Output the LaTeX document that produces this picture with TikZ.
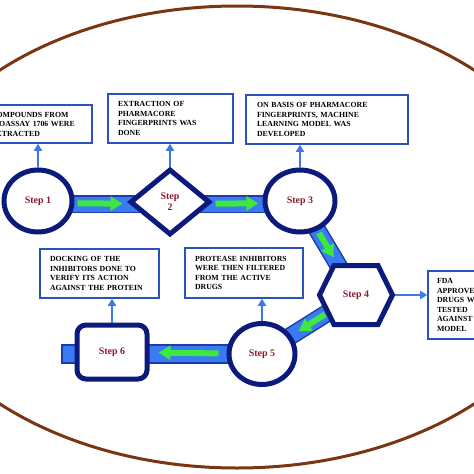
\documentclass[tikz,border=0pt]{standalone}
\usepackage{fontspec}
\setmainfont{Liberation Serif}
\usetikzlibrary{shapes.geometric,arrows.meta,calc,backgrounds}
\definecolor{navy}{HTML}{0C1A7C}
\definecolor{stepred}{HTML}{8B1A2E}
\definecolor{boxblue}{HTML}{2A52BE}
\definecolor{upblue}{HTML}{3C78E6}
\definecolor{bandfill}{HTML}{3A7AF2}
\definecolor{bandedge}{HTML}{1C3CA8}
\definecolor{arrowgreen}{HTML}{3EE83E}
\definecolor{ringbrown}{HTML}{7A3512}
\begin{document}
\begin{tikzpicture}[x=1pt,y=-1pt,
 stepshape/.style={draw=navy,line width=5pt,fill=white,font=\bfseries\fontsize{10}{11}\selectfont,text=stepred,inner sep=0pt,align=center},
 stepcirc/.style={stepshape,ellipse},
 infobox/.style={draw=boxblue,line width=1.6pt,fill=white,font=\bfseries\fontsize{7.8}{9.5}\selectfont,align=left,inner ysep=2pt},
 upconn/.style={draw=upblue,line width=2.5pt,-{Triangle[width=8pt,length=7pt]}},
 bandout/.style={draw=bandedge,line width=18pt},
 bandin/.style={draw=bandfill,line width=15pt},
 greenarrow/.style={draw=arrowgreen,line width=6pt,-{Triangle[width=14pt,length=12pt]}},
]
\useasboundingbox (0,0) rectangle (474,474);
\clip (0,0) rectangle (474,474);

% step shapes
\node[stepcirc, minimum width=68pt, minimum height=62pt] (s1) at (38,201) {Step 1};
\node[stepshape, diamond, minimum width=80pt, minimum height=66pt] (s2) at (170,202) {Step\\2};
\node[stepcirc, minimum width=70pt, minimum height=62pt] (s3) at (300,201) {Step 3};
\coordinate (c4) at (356,295);
\filldraw[fill=white, draw=navy, line width=5pt, line join=miter]
  ($(c4)+(-36.5,0)$) -- ($(c4)+(-22,-29.5)$) -- ($(c4)+(22,-29.5)$) -- ($(c4)+(36.5,0)$)
  -- ($(c4)+(22,29.5)$) -- ($(c4)+(-22,29.5)$) -- cycle;
\node[font=\bfseries\fontsize{10}{11}\selectfont, text=stepred, inner sep=0pt, minimum width=78pt, minimum height=64pt] (s4) at (c4) {Step 4};
\node[stepcirc, minimum width=66pt, minimum height=61pt] (s5) at (262,354) {Step 5};
\node[stepshape, rectangle, rounded corners=9pt, minimum width=70pt, minimum height=54pt] (s6) at (112,352) {Step 6};
\coordinate (bandend) at (62,354);

% info boxes
\node[infobox, text width=90pt, inner xsep=11pt, minimum height=38pt] (b1) at (36,124) {COMPOUNDS FROM\\BIOASSAY 1706 WERE\\EXTRACTED};
\node[infobox, text width=105pt, inner xsep=10pt, minimum height=49pt] (b2) at (170.5,118.5) {EXTRACTION OF\\PHARMACORE\\FINGERPRINTS WAS\\DONE};
\node[infobox, text width=140pt, inner xsep=11pt, minimum height=49pt] (b3) at (327,119.5) {ON BASIS OF PHARMACORE\\FINGERPRINTS, MACHINE\\LEARNING MODEL WAS\\DEVELOPED};
\node[infobox, text width=99pt, inner xsep=10pt, minimum height=49pt] (b4) at (99.5,273.5) {DOCKING OF THE\\INHIBITORS DONE TO\\VERIFY ITS ACTION\\AGAINST THE PROTEIN};
\node[infobox, text width=98pt, inner xsep=10pt, minimum height=50pt] (b5) at (244,273) {PROTEASE INHIBITORS\\WERE THEN FILTERED\\FROM THE ACTIVE\\DRUGS};
\node[infobox, text width=57pt, inner xsep=9pt, minimum height=68pt] (b6) at (465.5,305) {FDA\\APPROVED\\DRUGS WERE\\TESTED\\AGAINST THE\\MODEL};

% connectors to boxes
\draw[upconn] (s1.north) -- (s1.north |- b1.south);
\draw[upconn] (s2.north) -- (s2.north |- b2.south);
\draw[upconn] (s3.north) -- (s3.north |- b3.south);
\draw[upconn] (s5.north) -- (s5.north |- b5.south);
\draw[upconn] (s6.north) -- (s6.north |- b4.south);
\draw[upconn] (s4.east) -- (s4.east -| b6.west);

\begin{pgfonlayer}{background}
\clip (0,0) rectangle (474,474);
\draw[ringbrown, line width=3pt] (237,237) ellipse [x radius=343pt, y radius=231pt];
% bands
\draw[bandout] ($(s1.center)+(0,3)$) -- ($(s3.center)+(0,3)$);
\draw[bandin] ($(s1.center)+(0,3)$) -- ($(s3.center)+(0,3)$);
\draw[bandout] (s3.center) -- (s4.center) -- (s5.center);
\draw[bandin] (s3.center) -- (s4.center) -- (s5.center);
\filldraw[fill=bandfill, draw=bandedge, line width=1.5pt] ($(bandend)+(0,-9)$) rectangle ($(s5.center)+(0,9)$);
% green arrows
\draw[greenarrow] ($(s1.center)!0.30!(s2.center)+(0,2)$) -- ($(s1.center)!0.64!(s2.center)+(0,2)$);
\draw[greenarrow] ($(s2.center)!0.35!(s3.center)+(0,2)$) -- ($(s2.center)!0.68!(s3.center)+(0,2)$);
\draw[greenarrow] ($(s3.center)!0.34!(s4.center)$) -- ($(s3.center)!0.60!(s4.center)$);
\draw[greenarrow] ($(s4.center)!0.33!(s5.center)$) -- ($(s4.center)!0.61!(s5.center)$);
\draw[greenarrow] ($(s5.center)!0.29!(s6.center)$) -- ($(s5.center)!0.69!(s6.center)$);
\end{pgfonlayer}
\end{tikzpicture}
\end{document}
